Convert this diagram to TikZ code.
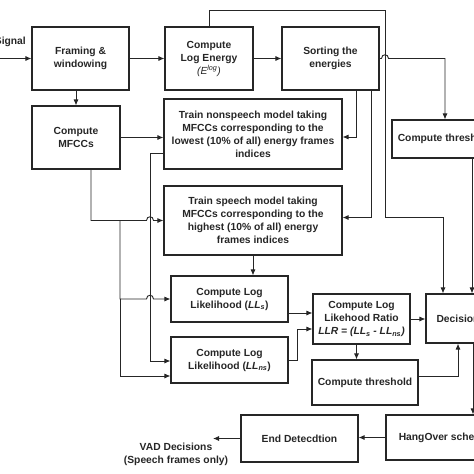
\documentclass[tikz,border=0pt]{standalone}
\usepackage{fontspec}
\setmainfont{Liberation Sans}
\usetikzlibrary{arrows.meta,calc}
\definecolor{ink}{HTML}{262626}
\begin{document}
\begin{tikzpicture}[x=1pt,y=-1pt,
  blk/.style={draw=ink, line width=1.1pt, text=ink, align=center, inner sep=1pt,
    font=\bfseries\fontsize{10.3}{13}\selectfont},
  arr/.style={draw=ink, line width=0.9pt, -{Latex[length=6pt,width=5pt]}},
  lbl/.style={text=ink, align=center, inner sep=0pt,
    font=\bfseries\fontsize{10.3}{13}\selectfont}]
\useasboundingbox (0,0) rectangle (474,474);

% nodes
\node[blk, minimum width=97, minimum height=63] (frame) at (80.5,58.5) {Framing \&\\windowing};
\node[blk, minimum width=88, minimum height=63] (energy) at (209,58.5) {Compute\\Log Energy\\{\mdseries\itshape(E\textsuperscript{log})}};
\node[blk, minimum width=97, minimum height=63] (sort) at (330.5,58.5) {Sorting the\\energies};
\node[blk, minimum width=88, minimum height=63] (mfcc) at (76,137.5) {Compute\\MFCCs};
\node[blk, minimum width=178, minimum height=70] (trn) at (253,134) {Train nonspeech model taking\\MFCCs corresponding to the\\lowest (10\% of all) energy frames\\indices};
\node[blk, minimum width=178, minimum height=69] (trs) at (253,220.5) {Train speech model taking\\MFCCs corresponding to the\\highest (10\% of all) energy\\frames indices};
\node[blk, minimum width=106, minimum height=38] (thr1) at (445,139) {Compute threshold};
\node[blk, minimum width=117, minimum height=46] (lls) at (229.5,299) {Compute Log\\Likelihood (\textit{LL\textsubscript{s}})};
\node[blk, minimum width=117, minimum height=46] (llns) at (229.5,360) {Compute Log\\Likelihood (\textit{LL\textsubscript{ns}})};
\node[blk, minimum width=97, minimum height=50] (llr) at (361.5,319) {Compute Log\\Likehood Ratio\\\textit{LLR = (LL\textsubscript{s} - LL\textsubscript{ns})}};
\node[blk, minimum width=64, minimum height=49] (dec) at (458,318.5) {Decision};
\node[blk, minimum width=106, minimum height=45] (thr2) at (365,382.5) {Compute threshold};
\node[blk, minimum width=116, minimum height=45] (hang) at (444,437.5) {HangOver scheme};
\node[blk, minimum width=117, minimum height=47] (endd) at (299.5,438.5) {End Detecdtion};
\node[lbl] (vad) at (176,454) {VAD Decisions\\(Speech frames only)};
\node[lbl, anchor=east] (sig) at (26,42) {Signal};

% helper coordinates
\coordinate (sigin) at (0,58.5);
\coordinate (vadin) at (213,438.5);
\coordinate (xa) at (120,0);
\coordinate (xb) at (150,0);
\coordinate (xc) at (385,10);
\coordinate (ec) at (443,217);
\coordinate (m1) at ([xshift=15]mfcc.south);
\coordinate (s1) at ([xshift=25.5]sort.south);
\coordinate (s2) at ([xshift=40.5]sort.south);
\coordinate (t1) at ([xshift=27]thr1.south);
\coordinate (l1) at ([xshift=-5]llr.south);
\coordinate (d1) at ([xshift=15]dec.south);

% connectors
\draw[arr] (sigin) -- (frame.west);
\draw[arr] (frame.east) -- (energy.west);
\draw[arr] (energy.east) -- (sort.west);
\draw[arr] (mfcc.north |- frame.south) -- (mfcc.north);
\draw[arr] (mfcc.east) -- (mfcc.east -| trn.west);

\draw[arr] (m1) |- ($(xb |- trs.west)+(-3.5,0)$) .. controls +(0,-5) and +(0,-5) .. ($(xb |- trs.west)+(3.5,0)$) -- (trs.west);
\draw[arr] (xa |- trs.west) |- ($(xb |- lls.west)+(-3.5,0)$) .. controls +(0,-5) and +(0,-5) .. ($(xb |- lls.west)+(3.5,0)$) -- (lls.west);
\draw[arr] (xa |- lls.west) |- ($(llns.west)+(0,16)$);
\draw[arr] ($(trn.west)+(0,19)$) -| ($(xb |- llns.west)+(0,1)$) -- ($(llns.west)+(0,1)$);

\draw[arr] (trs.south) -- (trs.south |- lls.north);
\draw[arr] (s1) |- ($(trn.east)+(0,3)$);
\draw[arr] (s2) |- ($(trs.east)+(0,-3)$);

\draw[arr] (sort.east) -- ($(xc |- sort.east)+(-3.5,0)$) .. controls +(0,-5) and +(0,-5) .. ($(xc |- sort.east)+(3.5,0)$) -| (thr1.north);
\draw[arr] (energy.north) |- (xc) |- (ec) -- (ec |- dec.north);
\draw[arr] (t1) -- (t1 |- dec.north);

\draw[arr] (lls.east |- 0,313) -- ($(llr.west)+(0,-6)$);
\draw[arr] (llns.east) -- ++(9,0) |- ($(llr.west)+(0,10)$);
\draw[arr] (llr.east) -- (llr.east -| dec.west);
\draw[arr] (l1) -- (l1 |- thr2.north);
\draw[arr] ($(thr2.east)+(0,-6)$) -| (dec.south);
\draw[arr] (d1) -- (d1 |- hang.north);
\draw[arr] (hang.west) -- (hang.west -| endd.east);
\draw[arr] (endd.west) -- (vadin);
\end{tikzpicture}
\end{document}
